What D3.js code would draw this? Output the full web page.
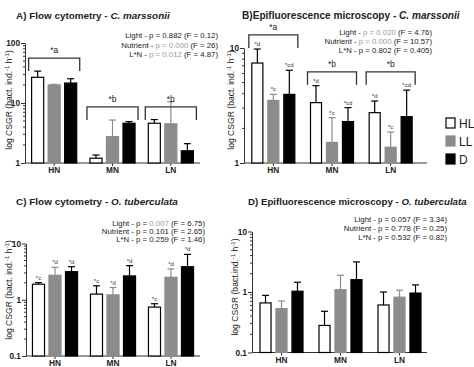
<!DOCTYPE html>
<html>
<head>
<meta charset="utf-8">
<script src="https://cdn.jsdelivr.net/npm/d3@7"></script>
<style>
  body { margin: 0; background: #fff; }
  svg { display: block; font-family: "Liberation Sans", Arial, sans-serif; }
</style>
</head>
<body>
<div id="chart"></div>
<script>
const groups = ["HN", "MN", "LN"];
const series = ["HL", "LL", "D"];

// bar height and top of the error bar, one row per group: [HL, LL, D]
const aMean  = [[26.8, 20, 21.5], [1.2, 2.75, 4.6], [4.6, 4.5, 1.6]];
const aUpper = [[34, 20.5, 25.4], [1.36, 5.2, 4.9], [5.3, 10.5, 2.1]];

const bMean  = [[7.4, 3.5, 3.95], [3.35, 1.51, 2.29], [2.74, 1.37, 2.53]];
const bUpper = [[9.8, 3.95, 6.4], [4.7, 2.48, 3.03], [3.46, 1.86, 4.3]];
const bLetters = [["*d", "*c", "*cd"], ["*d", "*c", "*cd"], ["*d", "*c", "*cd"]];

const cMean  = [[1.89, 2.72, 3.16], [1.26, 1.22, 2.65], [0.74, 2.51, 3.87]];
const cUpper = [[2.02, 3.77, 3.87], [1.77, 1.65, 4.04], [0.85, 3.52, 6.4]];
const cLetters = [["*c", "*d", "*d"], ["*c", "*d", "*d"], ["*c", "*d", "*d"]];

const dMean  = [[0.66, 0.53, 1.03], [0.28, 1.09, 1.6], [0.61, 0.82, 0.96]];
const dUpper = [[0.88, 0.71, 1.45], [0.48, 1.89, 3.14], [1.0, 1.07, 1.31]];

// significance brackets: group, label, level (data units)
const aBrackets = [["HN", "*a", 56], ["MN", "*b", 8.6], ["LN", "*b", 8.6]];
const bBrackets = [["HN", "*a", 13], ["MN", "*b", 6.2], ["LN", "*b", 6.2]];

// ANOVA lines: [plain, grey, plain]
const aStats = [["Light - p = 0.882 (F = 0.12)", "", ""],
                ["Nutrient - ", "p = 0.000", " (F = 26)"],
                ["L*N - ", "p = 0.012", " (F = 4.87)"]];
const bStats = [["Light - ", "p = 0.020", " (F = 4.76)"],
                ["Nutrient - ", "p = 0.000", " (F = 10.57)"],
                ["L*N - p = 0.802 (F = 0.405)", "", ""]];
const cStats = [["Light - p = ", "0.007", " (F = 6.75)"],
                ["Nutrient - p = 0.101 (F = 2.65)", "", ""],
                ["L*N - p = 0.259 (F = 1.46)", "", ""]];
const dStats = [["Light - p = 0.057 (F = 3.34)", "", ""],
                ["Nutrient - p = 0.778 (F = 0.25)", "", ""],
                ["L*N - p = 0.532 (F = 0.82)", "", ""]];

const fills = {HL: "#fff", LL: "#8c8c8c", D: "#000"};
const strokes = {HL: "#000", LL: "#8c8c8c", D: "#000"};
const ink = "#222", grey = "#9a9a9a";

const svg = d3.select("#chart").append("svg")
    .attr("width", 474).attr("height", 367);

// titles are scaled to the width they take in the figure
function title(x, y, plain, ital, width) {
    const t = svg.append("text").attr("x", x).attr("y", y)
        .attr("font-size", 10).attr("font-weight", "bold").attr("fill", ink);
    t.append("tspan").text(plain);
    t.append("tspan").attr("font-style", "italic").text(ital);
    const len = t.node().getComputedTextLength();
    t.attr("font-size", Math.min(10.5, 10 * width / len));
}

function drawPanel(p) {
    const y = d3.scaleLog().domain(p.yDomain).range([p.bottom, p.top]);
    const x0 = d3.scaleBand().domain(groups).range([p.left, p.right]);
    const x1 = d3.scaleBand().domain(series).range([-p.half, p.half])
        .paddingInner(p.padIn).paddingOuter(0.1);
    const cx = g => x0(g) + x0.bandwidth() / 2;
    const g = svg.append("g");

    // y axis, major + minor ticks
    const majors = y.ticks().filter(v => Math.abs(Math.log10(v) - Math.round(Math.log10(v))) < 1e-9);
    const minors = y.ticks().filter(v => !majors.includes(v));
    const ya = g.append("g").attr("transform", `translate(${p.left},0)`)
        .call(d3.axisLeft(y).tickValues(majors).tickFormat(d3.format("~g")).tickSize(4).tickSizeOuter(0));
    ya.append("g").selectAll("line").data(minors).join("line")
        .attr("x2", -2).attr("y1", d => y(d)).attr("y2", d => y(d)).attr("stroke", "#333");
    ya.selectAll("path, line").attr("stroke", "#333").attr("stroke-width", 1);
    ya.selectAll("text").attr("font-size", 8.3).attr("font-weight", "bold")
        .attr("fill", ink).attr("x", -5);
    ya.attr("font-family", null);

    // x axis
    g.append("line").attr("x1", p.left).attr("x2", p.axisEnd)
        .attr("y1", p.bottom).attr("y2", p.bottom).attr("stroke", "#333");
    groups.forEach(gr => {
        g.append("line").attr("x1", cx(gr)).attr("x2", cx(gr))
            .attr("y1", p.bottom).attr("y2", p.bottom + 3).attr("stroke", "#333");
        g.append("text").attr("x", cx(gr)).attr("y", p.bottom + 10)
            .attr("text-anchor", "middle").attr("font-size", 8.3).attr("font-weight", "bold")
            .attr("fill", ink).text(gr);
    });

    // bars, error bars, letters
    groups.forEach((gr, gi) => {
        series.forEach((s, si) => {
            const xl = cx(gr) + x1(s), w = x1.bandwidth(), xm = xl + w / 2;
            const m = p.mean[gi][si], u = p.upper[gi][si];
            g.append("line").attr("x1", xm).attr("x2", xm)
                .attr("y1", y(m)).attr("y2", y(u))
                .attr("stroke", strokes[s]).attr("stroke-width", 1.2);
            g.append("line").attr("x1", xm - 3.5).attr("x2", xm + 3.5)
                .attr("y1", y(u)).attr("y2", y(u))
                .attr("stroke", strokes[s]).attr("stroke-width", 1.2);
            g.append("rect").attr("x", xl).attr("width", w)
                .attr("y", y(m)).attr("height", p.bottom - y(m))
                .attr("fill", fills[s]).attr("stroke", strokes[s]).attr("stroke-width", 1.2);
            if (p.letters) {
                g.append("text").attr("x", xm).attr("y", y(u) - 3)
                    .attr("text-anchor", "middle").attr("font-size", 6)
                    .attr("fill", "#333").text(p.letters[gi][si]);
            }
        });
    });

    // brackets
    (p.brackets || []).forEach(([gr, lab, lev]) => {
        const xa = cx(gr) + x1(series[0]) - 3;
        const xb = cx(gr) + x1(series[2]) + x1.bandwidth() + 3;
        const yt = y(lev);
        g.append("path").attr("d", `M${xa},${yt + 13}V${yt}H${xb}V${yt + 13}`)
            .attr("fill", "none").attr("stroke", "#333").attr("stroke-width", 1.3);
        g.append("text").attr("x", (xa + xb) / 2).attr("y", yt - 5)
            .attr("text-anchor", "middle").attr("font-size", 8.5).attr("fill", ink).text(lab);
    });

    // stats
    p.stats.forEach((parts, i) => {
        const t = g.append("text").attr("x", p.statX).attr("y", p.statY + i * p.statGap)
            .attr("text-anchor", "end").attr("font-size", 7.8).attr("fill", ink);
        t.append("tspan").text(parts[0]);
        if (parts[1]) t.append("tspan").attr("fill", grey).text(parts[1]);
        if (parts[2]) t.append("tspan").text(parts[2]);
    });

    // y label
    const yl = g.append("text")
        .attr("transform", `translate(${p.ylabX},${p.ylabY}) rotate(-90)`)
        .attr("text-anchor", "middle").attr("font-size", 8.6).attr("fill", ink);
    yl.append("tspan").text(p.ylabText);
    yl.append("tspan").attr("font-size", 6).attr("dy", -3.2).text("-1");
    yl.append("tspan").attr("dy", 3.2).text(" h");
    yl.append("tspan").attr("font-size", 6).attr("dy", -3.2).text("-1");
    yl.append("tspan").attr("dy", 3.2).text(")");
}

title(16, 19, "A) Flow cytometry - ", "C. marssonii", 154);
title(242, 19, "B)Epifluorescence microscopy -  ", "C. marssonii", 218);
title(16, 205, "C) Flow cytometry - ", "O. tuberculata", 162);
title(248, 205, "D) Epifluorescence microscopy - ", "O. tuberculata", 219);

drawPanel({mean: aMean, upper: aUpper, brackets: aBrackets, stats: aStats,
    yDomain: [1, 100], top: 43, bottom: 163, left: 25, right: 200, axisEnd: 200,
    half: 24.2, padIn: 0.27, statX: 218, statY: 38, statGap: 9.5,
    ylabX: 12, ylabY: 100, ylabText: "log CSGR (bact. ind."});
drawPanel({mean: bMean, upper: bUpper, letters: bLetters, brackets: bBrackets, stats: bStats,
    yDomain: [1, 10], top: 48, bottom: 163, left: 244, right: 420, axisEnd: 427,
    half: 23.1, padIn: 0.31, statX: 432, statY: 35, statGap: 9,
    ylabX: 234, ylabY: 100, ylabText: "log CSGR (bact. ind."});
drawPanel({mean: cMean, upper: cUpper, letters: cLetters, stats: cStats,
    yDomain: [0.1, 10], top: 243.5, bottom: 356, left: 26, right: 200, axisEnd: 200,
    half: 24.2, padIn: 0.27, statX: 205, statY: 225.5, statGap: 8,
    ylabX: 12, ylabY: 290, ylabText: "log CSGR (bact. ind."});
drawPanel({mean: dMean, upper: dUpper, stats: dStats,
    yDomain: [0.1, 10], top: 231.5, bottom: 352.5, left: 252, right: 429, axisEnd: 427,
    half: 23.1, padIn: 0.31, statX: 447, statY: 222, statGap: 9,
    ylabX: 238, ylabY: 287, ylabText: "log CSGR (bact.ind."});

// legend
const leg = svg.append("g").attr("transform", "translate(446,118)");
series.forEach((s, i) => {
    leg.append("rect").attr("x", 0).attr("y", i * 18).attr("width", 9).attr("height", 10)
        .attr("fill", fills[s]).attr("stroke", strokes[s]).attr("stroke-width", 1.2);
    leg.append("text").attr("x", 13).attr("y", i * 18 + 9.5)
        .attr("font-size", 12).attr("fill", ink).text(s);
});
</script>
</body>
</html>
